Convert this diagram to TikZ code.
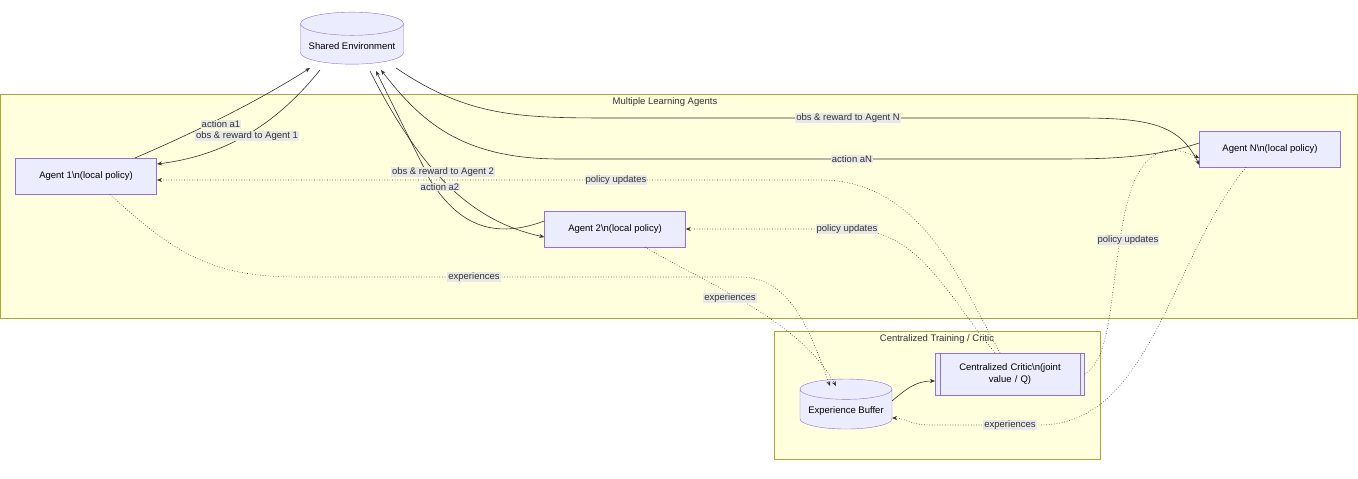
\documentclass[tikz,border=0pt]{standalone}
\usepackage{fontspec}
\setmainfont{Liberation Sans}
\usetikzlibrary{shapes.geometric,arrows.meta}
\definecolor{nf}{HTML}{ECECFF}
\definecolor{ns}{HTML}{9370DB}
\definecolor{cf}{HTML}{FFFFDE}
\definecolor{cs}{HTML}{AAAA33}
\definecolor{lb}{HTML}{E8E8E8}
\definecolor{ln}{HTML}{333333}
\begin{document}
\begin{tikzpicture}[x=1pt,y=-1pt,font=\fontsize{9.5}{12}\selectfont,
  box/.style={draw=ns,fill=nf,minimum width=141pt,minimum height=36pt,align=center,inner sep=2pt},
  cyl/.style={cylinder,shape border rotate=90,aspect=0.25,draw=ns,fill=nf,align=center,inner sep=3pt},
  clus/.style={draw=cs,fill=cf},
  lab/.style={fill=lb,inner sep=1pt,text=ln},
  e/.style={draw=ln,line width=0.6pt,-{Stealth[length=5pt,width=4pt]}},
  d/.style={e,dotted}]
\useasboundingbox (0,0) rectangle (1358,479);
\fill[white] (0,0) rectangle (1358,479);
\draw[clus] (0,94) rectangle (1357,318);
\node[text=ln] (t1) at (665,102) {Multiple Learning Agents};
\draw[clus] (774,331) rectangle (1100,459);
\node[text=ln] (t2) at (937,339) {Centralized Training / Critic};

\node[cyl,minimum width=103pt,minimum height=52pt] (env) at (352,46) {\raisebox{-5pt}{Shared Environment}};
\node[box] (a1) at (86,176) {Agent 1\textbackslash n(local policy)};
\node[box] (a2) at (615,229) {Agent 2\textbackslash n(local policy)};
\node[box] (an) at (1270,149) {Agent N\textbackslash n(local policy)};
\node[box,minimum width=149pt,minimum height=42pt,text width=130pt] (cr) at (1010,374) {Centralized Critic\textbackslash n(joint\\value / Q)};
\draw[ns] ([xshift=5pt]cr.north west) -- ([xshift=5pt]cr.south west);
\draw[ns] ([xshift=-5pt]cr.north east) -- ([xshift=-5pt]cr.south east);
\node[cyl,minimum width=92pt,minimum height=50pt] (buf) at (846,411) {\raisebox{-5pt}{Experience Buffer}};

\coordinate (p1) at (310,68);
\coordinate (p2) at (320,70);
\coordinate (p3) at (370,71);
\coordinate (p4) at (376,71);
\coordinate (p5) at (381,70);
\coordinate (p6) at (396,68);
\coordinate (b1) at (830,386);
\coordinate (b2) at (836,386);
\draw[e] (135,158) .. controls (200,130) and (260,100) .. (p1);
\draw[e] (p2) .. controls (280,120) and (230,155) .. (157,164);
\node[lab] (la) at (221,124) {action a1};
\node[lab] (lb) at (247,136) {obs \& reward to Agent 1};
\draw[e] (p6) .. controls (470,118) and (520,118) .. (620,118) -- (1080,118) .. controls (1150,118) and (1180,125) .. ([yshift=-16pt]an.west);
\node[lab] (l1) at (848,118) {obs \& reward to Agent N};
\draw[e] ([yshift=6pt]an.west) .. controls (1150,159) and (1100,159) .. (1050,159) -- (560,159) .. controls (460,159) and (420,120) .. (p5);
\node[lab] (l2) at (852,159) {action aN};
\draw[e] (p3) .. controls (420,170) and (470,221) .. ([yshift=-8pt]a2.west);
\draw[e] ([yshift=8pt]a2.west) .. controls (480,245) and (450,210) .. (430,180) -- (p4);
\node[lab] (l3) at (443,172) {obs \& reward to Agent 2};
\node[lab] (l4) at (440,187) {action a2};

\coordinate (c1) at (1000,353);
\draw[d] (c1) .. controls (960,280) and (920,180) .. (820,180) -- (157,180);
\node[lab] (l5) at (616,180) {policy updates};
\draw[d] ([xshift=-15pt]cr.north) .. controls (950,300) and (920,229) .. (850,229) -- (a2.east);
\node[lab] (l6) at (847,229) {policy updates};
\draw[d] (cr.east) .. controls (1110,360) and (1110,300) .. (1120,240) .. controls (1130,170) and (1150,135) .. ([yshift=-9pt]an.west);
\node[lab] (l7) at (1128,240) {policy updates};

\draw[d] ([xshift=24pt]a1.south) .. controls (180,260) and (220,277) .. (300,277) -- (740,277) .. controls (790,277) and (810,330) .. (b1);
\node[lab] (l8) at (474,277) {experiences};
\draw[d] ([xshift=30pt]a2.south) .. controls (700,280) and (800,320) .. (b2);
\node[lab] (l9) at (730,298) {experiences};
\draw[d] ([xshift=-24pt]an.south) .. controls (1170,260) and (1150,425) .. (1040,425) -- (930,425) .. controls (910,425) and (905,418) .. (892,418);
\node[lab] (l10) at (1010,425) {experiences};
\draw[e] (892,401) .. controls (905,390) and (915,381) .. (935,381);
\end{tikzpicture}
\end{document}
